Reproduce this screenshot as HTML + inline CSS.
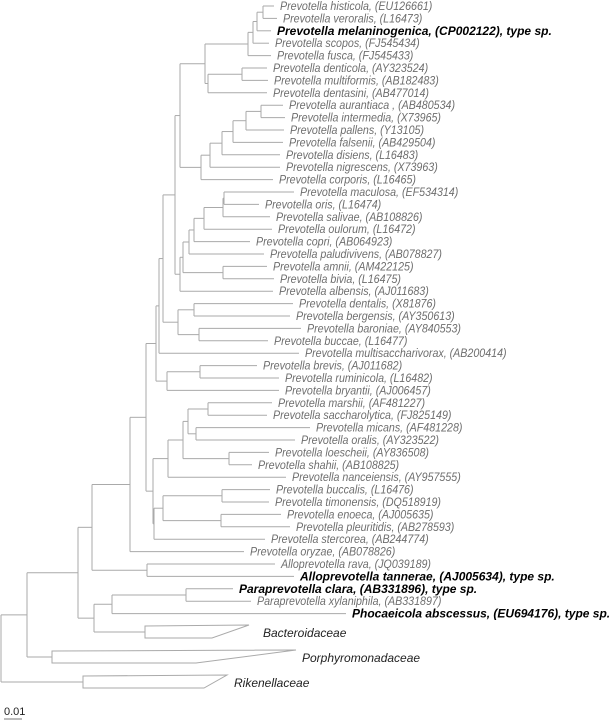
<!DOCTYPE html>
<html><head><meta charset="utf-8"><style>
html,body{margin:0;padding:0;background:#fff;}
svg{display:block;font-family:"Liberation Sans",sans-serif;}
.lf{font-size:12px;font-style:italic;fill:#6e6e6e;}
.bd{font-weight:bold;fill:#000;}
.cl{font-size:12px;font-style:italic;fill:#222;}
</style></head><body>
<svg id="tree" width="609" height="721" viewBox="0 0 609 721" xmlns="http://www.w3.org/2000/svg">
<g id="branches" stroke="#aaa" stroke-width="1" fill="none"></g>
<g id="labels"></g>
<g>
<text x="4" y="715" font-size="11" fill="#222">0.01</text>
<line x1="4" y1="719" x2="22" y2="719" stroke="#777" stroke-width="1"/>
</g>
</svg>
<script>
const names=["Prevotella histicola, (EU126661)","Prevotella veroralis, (L16473)","Prevotella melaninogenica, (CP002122), type sp.","Prevotella scopos, (FJ545434)","Prevotella fusca, (FJ545433)","Prevotella denticola, (AY323524)","Prevotella multiformis, (AB182483)","Prevotella dentasini, (AB477014)","Prevotella aurantiaca , (AB480534)","Prevotella intermedia, (X73965)","Prevotella pallens, (Y13105)","Prevotella falsenii, (AB429504)","Prevotella disiens, (L16483)","Prevotella nigrescens, (X73963)","Prevotella corporis, (L16465)","Prevotella maculosa, (EF534314)","Prevotella oris, (L16474)","Prevotella salivae, (AB108826)","Prevotella oulorum, (L16472)","Prevotella copri, (AB064923)","Prevotella paludivivens, (AB078827)","Prevotella amnii, (AM422125)","Prevotella bivia, (L16475)","Prevotella albensis, (AJ011683)","Prevotella dentalis, (X81876)","Prevotella bergensis, (AY350613)","Prevotella baroniae, (AY840553)","Prevotella buccae, (L16477)","Prevotella multisaccharivorax, (AB200414)","Prevotella brevis, (AJ011682)","Prevotella ruminicola, (L16482)","Prevotella bryantii, (AJ006457)","Prevotella marshii, (AF481227)","Prevotella saccharolytica, (FJ825149)","Prevotella micans, (AF481228)","Prevotella oralis, (AY323522)","Prevotella loescheii, (AY836508)","Prevotella shahii, (AB108825)","Prevotella nanceiensis, (AY957555)","Prevotella buccalis, (L16476)","Prevotella timonensis, (DQ518919)","Prevotella enoeca, (AJ005635)","Prevotella pleuritidis, (AB278593)","Prevotella stercorea, (AB244774)","Prevotella oryzae, (AB078826)","Alloprevotella rava, (JQ039189)","Alloprevotella tannerae, (AJ005634), type sp.","Paraprevotella clara, (AB331896), type sp.","Paraprevotella xylaniphila, (AB331897)","Phocaeicola abscessus, (EU694176), type sp."];
const tipDepth=[274,277,271,269,271,267,268,267,283,285,284,283,280,280,273,294,259,270,272,250,264,267,274,273,293,290,301,268,299,257,279,279,272,267,310,295,269,252,286,270,269,281,290,265,244,275,294,233,251,346];
const boldIdx=[2,46,47,49];
const cladeNames=["Bacteroidaceae","Porphyromonadaceae","Rikenellaceae"];
const cladeBase=[145,52,83];
const cladeTop=[249,296,227];
const cladeBottom=[212,196,204];
const cladeRow=[632,657,682];
const cladeLabelX=[263,302,234];
// tree: [nodeDepth, children...]; numbers = leaf index (50-52 = collapsed clades)
const tree=[1,
 [27,
  [78,
   [92,
    [130,
     [146,
      [156,
       [159,
        [163,
         [175,
          [180,[205,[248,[253,[257,[263,0,1],2],3],4],[208,[242,5,6],7]],
               [201,[210,[222,[233,[246,[261,8,9],10],11],12],13],14]],
          [180,[183,[189,[194,[204,[223,[224,15,16],17],18],19],20],[223,21,22]],23]],
         [178,[194,24,25],[199,26,27]]],
        28],
       [167,[200,29,30],31]],
      [153,[168,[183,[188,[208,32,33],[196,34,35]],[229,36,37]],38],
           [154,[163,[222,39,40],[221,41,42]],43]]],
     44],
    [147,45,46]],
   [94,[112,[186,47,48],49],50]],
  51],
 52];

const NS="http://www.w3.org/2000/svg";
const gB=document.getElementById('branches'), gL=document.getElementById('labels');
function rowY(i){return i<50?6+12.4*i:cladeRow[i-50];}
function xOf(i){return i<50?tipDepth[i]:cladeBase[i-50];}
function line(x1,y1,x2,y2,nm){
  const l=document.createElementNS(NS,'line');
  l.setAttribute('x1',x1);l.setAttribute('y1',y1);l.setAttribute('x2',x2);l.setAttribute('y2',y2);
  
  
  gB.appendChild(l);
}
function draw(n){
  if(typeof n==='number') return rowY(n);
  const x=n[0]; const ys=[];
  for(let k=1;k<n.length;k++){
    const c=n[k]; const cy=draw(c);
    const cx=(typeof c==='number')?xOf(c):c[0];
    line(x,cy,cx,cy,'branch');
    ys.push(cy);
  }
  line(x,Math.min(...ys),x,Math.max(...ys),'node-connector');
  return (Math.min(...ys)+Math.max(...ys))/2;
}
draw(tree);
names.forEach((nm,i)=>{
  const t=document.createElementNS(NS,'text');
  const bold=boldIdx.includes(i);
  const tx=tipDepth[i]+6, ty=rowY(i)+4;
  t.setAttribute('x',0);t.setAttribute('y',0);
  t.setAttribute('transform',`translate(${tx},${ty}) scale(${bold?1:0.89},1)`);
  t.setAttribute('class','lf'+(bold?' bd':''));
  t.textContent=nm;
  
  
  gL.appendChild(t);
});
cladeNames.forEach((nm,i)=>{
  const y=cladeRow[i], b=cladeBase[i];
  const p=document.createElementNS(NS,'polygon');
  p.setAttribute('points',`${b},${y-6} ${cladeTop[i]},${y-7} ${cladeBottom[i]},${y+6} ${b},${y+6}`);
  
  
  gB.appendChild(p);
  const t=document.createElementNS(NS,'text');
  t.setAttribute('x',cladeLabelX[i]);t.setAttribute('y',y+5);
  t.setAttribute('class','cl');
  t.textContent=nm;
  
  
  gL.appendChild(t);
});
</script>
</body></html>
